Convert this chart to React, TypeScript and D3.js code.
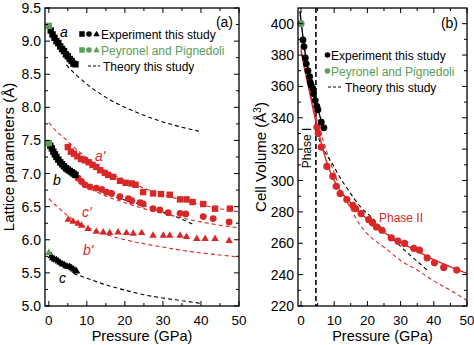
import React from "react";
import * as d3 from "d3";

type Pt = [number, number];

// ---------- Panel (a): lattice parameters ----------
const aExp: Pt[] = [[0.5,9.16],[1,9.1],[1.5,9.05],[2,9.0],[2.5,8.97],[3,8.92],[3.5,8.88],[4,8.85],[4.5,8.8],[5,8.77],[5.5,8.73],[6,8.7],[6.5,8.66],[7,8.65]];
const bExp: Pt[] = [[0.4,7.42],[0.8,7.38],[1.2,7.33],[1.6,7.29],[2,7.25],[2.5,7.21],[3,7.17],[3.5,7.14],[4,7.11],[4.5,7.08],[5,7.06],[5.5,7.04],[6,7.02],[6.5,7.0],[7,6.98]];
const cExp: Pt[] = [[0.6,5.76],[1,5.73],[1.5,5.71],[2,5.7],[2.5,5.68],[3,5.66],[3.5,5.64],[4,5.63],[4.5,5.61],[5,5.6],[5.5,5.6],[6,5.58],[6.5,5.56],[7,5.54],[7.3,5.53]];
const aLit: Pt[] = [[0,9.23]];
const bLit: Pt[] = [[0,7.46]];
const cLit: Pt[] = [[0,5.81]];

const sqII: Pt[] = [[5.0,7.40],[5.8,7.33],[6.6,7.30],[7.5,7.26],[8.5,7.22],[9.5,7.2],[10.5,7.17],[11.5,7.13],[12.5,7.10],[13.5,7.05],[14.7,7.01],[15.6,6.98],[16.9,6.95],[18.7,6.89],[20.2,6.86],[21.8,6.85],[22.8,6.83],[24.8,6.72],[27.4,6.70],[29.5,6.69],[31.8,6.68],[34.5,6.61],[36.2,6.61],[37.8,6.57],[40.6,6.54],[43.7,6.47],[47.6,6.47]];
const ciII: Pt[] = [[6.8,6.98],[7.7,6.93],[8.6,6.88],[9.5,6.83],[10.8,6.80],[12.5,6.78],[13.9,6.76],[15.2,6.72],[16.5,6.70],[18.7,6.65],[20.9,6.62],[21.8,6.59],[24.0,6.56],[24.8,6.54],[27.4,6.47],[29.2,6.45],[31.4,6.41],[34.5,6.40],[36.0,6.39],[40.6,6.35],[43.2,6.32],[47.4,6.27]];
const trII: Pt[] = [[5.1,6.31],[6.4,6.28],[7.7,6.25],[8.6,6.22],[10.3,6.17],[12.5,6.13],[14.3,6.12],[16.0,6.11],[18.2,6.12],[20.4,6.11],[22.2,6.10],[24.4,6.11],[27.4,6.07],[30.1,6.07],[31.8,6.07],[34.5,6.07],[36.2,6.05],[38.9,6.02],[41.1,6.02],[43.7,6.02],[47.4,5.99]];

const aTheoryI: Pt[] = [[4.6,8.64],[7,8.5],[10,8.35],[15,8.15],[20,8.0],[25,7.88],[30,7.78],[35,7.7],[39.5,7.64]];
const bTheoryI: Pt[] = [[5,7.06],[7,6.96],[10,6.84],[15,6.70],[20,6.6],[25,6.52],[30,6.42],[35,6.31],[38,6.23]];
const cTheoryI: Pt[] = [[6.5,5.49],[10,5.42],[15,5.32],[20,5.24],[25,5.17],[30,5.12],[35,5.08],[40,5.04]];
const aTheoryII: Pt[] = [[0,7.77],[2,7.64],[4,7.54],[6,7.43],[8,7.33],[10,7.24],[12,7.15],[15,7.04],[20,6.9],[25,6.78],[30,6.68],[35,6.6],[40,6.53],[45,6.47],[50,6.42]];
const cTheoryII: Pt[] = [[8,6.88],[10,6.8],[15,6.66],[20,6.56],[25,6.47],[30,6.4],[35,6.33],[40,6.27],[45,6.22],[50,6.18]];
const bTheoryII: Pt[] = [[0,6.62],[2,6.51],[4,6.41],[6,6.32],[8,6.25],[10,6.19],[12,6.14],[15,6.08],[18,6.03],[20,6.0],[25,5.94],[30,5.89],[35,5.84],[40,5.8],[45,5.77],[50,5.74]];

// ---------- Panel (b): cell volume ----------
const volExpI: Pt[] = [[0.6,389.6],[0.9,385.4],[1.3,378.2],[1.6,374.4],[2.1,370],[2.6,366.3],[2.8,362.7],[3.1,360.6],[3.6,358.5],[3.8,355.3],[4.3,351],[4.8,347.2],[5.1,345.1],[6.1,337.2],[6.9,333.6]];
const volLit: Pt[] = [[0,400]];
const volExpII: Pt[] = [[4.8,334],[5.2,330],[6.1,321.3],[7.8,309],[9.6,302.7],[10.6,296.3],[11.8,291.7],[13.8,287.9],[15.6,284.2],[16.4,282.1],[18.1,278.9],[20.4,275.1],[21.5,273],[22.7,270.4],[24.4,268.3],[27.2,263.4],[29.2,261.3],[31.2,259.9],[34.0,256.7],[35.7,255.6],[38.0,250.7],[40.2,247.5],[43.0,244.6],[46.9,242.9]];
const volFitI: Pt[] = [[-0.3,408],[0,402],[1,385],[2,371.5],[3,361.5],[4,353],[5,346],[6,339],[7,333]];
const volFitII: Pt[] = [[0,383],[1,372],[2,362],[3,352],[4,342],[5,333],[6,325],[7,317],[8,310],[10,300],[12,293],[14,288],[16,283.5],[18,279],[20,275.5],[22,272],[25,267],[30,260.5],[35,255],[40,249.5],[45,245],[50,240.8]];
const volTheoryI: Pt[] = [[4.5,331],[7,319],[9.5,310.5],[12,301],[13.6,296],[16,288.5],[18,283],[21.6,275.8],[25,268],[28.6,261],[32,254],[35,248.5],[38.5,242]];
const volTheoryII: Pt[] = [[0,384],[2,363],[4,345],[6,330],[8,317],[10,305],[12,294],[14.5,284],[18,271],[20,266],[25,257.5],[28.6,251.3],[30,249],[35,243],[40,236],[45,230],[50,223.5]];
const phaseBoundary = 4.5;

const xTicks = [0, 10, 20, 30, 40, 50];
const xMinor = [5, 15, 25, 35, 45];
const aYTicks = [5.0, 5.5, 6.0, 6.5, 7.0, 7.5, 8.0, 8.5, 9.0, 9.5];
const bYTicks = [220, 240, 260, 280, 300, 320, 340, 360, 380, 400];

const RED = "#d92727";
const GREEN = "#5a9e57";
const FONT = "'Liberation Sans', Arial, Helvetica, sans-serif";

const A = { l: 45, r: 239, t: 8, b: 306 };
const B = { l: 298, r: 467, t: 8, b: 306 };

const xa = d3.scaleLinear().domain([-1, 50]).range([A.l, A.r]);
const ya = d3.scaleLinear().domain([5, 9.5]).range([A.b, A.t]);
const xb = d3.scaleLinear().domain([-0.9, 50]).range([B.l, B.r]);
const yb = d3.scaleLinear().domain([220, 410]).range([B.b, B.t]);

function Square({ x, y, c, s = 6.4 }: { x: number; y: number; c: string; s?: number }) {
  return <rect x={x - s / 2} y={y - s / 2} width={s} height={s} fill={c} />;
}
function Circle({ x, y, c, r = 3.4 }: { x: number; y: number; c: string; r?: number }) {
  return <circle cx={x} cy={y} r={r} fill={c} />;
}
function Tri({ x, y, c, s = 7.4 }: { x: number; y: number; c: string; s?: number }) {
  const h = s * 0.87;
  return <path d={`M${x},${y - h * 0.6}L${x + s / 2},${y + h * 0.4}L${x - s / 2},${y + h * 0.4}Z`} fill={c} />;
}

function Frame({ box, xs, ys, yt, yMinor, fmt }: any) {
  const els: any[] = [];
  xTicks.forEach((t) => {
    const x = xs(t);
    els.push(<line key={"xb" + t} x1={x} x2={x} y1={box.b} y2={box.b - 5} stroke="#000" />);
    els.push(<line key={"xt" + t} x1={x} x2={x} y1={box.t} y2={box.t + 5} stroke="#000" />);
    els.push(<text key={"xl" + t} x={x} y={box.b + 19} textAnchor="middle" fontSize={13.5} fontFamily={FONT}>{t}</text>);
  });
  xMinor.forEach((t) => {
    const x = xs(t);
    els.push(<line key={"xmb" + t} x1={x} x2={x} y1={box.b} y2={box.b - 3} stroke="#000" />);
    els.push(<line key={"xmt" + t} x1={x} x2={x} y1={box.t} y2={box.t + 3} stroke="#000" />);
  });
  yt.forEach((t: number) => {
    const y = ys(t);
    els.push(<line key={"yl" + t} x1={box.l} x2={box.l + 5} y1={y} y2={y} stroke="#000" />);
    els.push(<line key={"yr" + t} x1={box.r} x2={box.r - 5} y1={y} y2={y} stroke="#000" />);
    els.push(<text key={"ylab" + t} x={box.l - 4} y={y + 5} textAnchor="end" fontSize={14} fontFamily={FONT}>{fmt(t)}</text>);
  });
  yMinor.forEach((t: number) => {
    const y = ys(t);
    els.push(<line key={"yml" + t} x1={box.l} x2={box.l + 3} y1={y} y2={y} stroke="#000" />);
    els.push(<line key={"ymr" + t} x1={box.r} x2={box.r - 3} y1={y} y2={y} stroke="#000" />);
  });
  els.push(<rect key="frame" x={box.l} y={box.t} width={box.r - box.l} height={box.b - box.t} fill="none" stroke="#000" strokeWidth={1.3} />);
  return <g>{els}</g>;
}

export default function App() {
  const la = d3.line<Pt>().x((d) => xa(d[0])).y((d) => ya(d[1])).curve(d3.curveMonotoneX);
  const lb = d3.line<Pt>().x((d) => xb(d[0])).y((d) => yb(d[1])).curve(d3.curveMonotoneX);
  const dash = "4,3";
  const aMinor = d3.range(5.25, 9.5, 0.5);
  const bMinor = d3.range(230, 410, 20);

  return (
    <svg width={474} height={345} style={{ position: "absolute", left: 0, top: 0, background: "#fff" }} fontFamily={FONT}>
      {/* ---------- Panel (a) ---------- */}
      <g fill="none" strokeWidth={1.1}>
        <path d={la(aTheoryI) || ""} stroke="#000" strokeDasharray={dash} />
        <path d={la(bTheoryI) || ""} stroke="#000" strokeDasharray={dash} />
        <path d={la(cTheoryI) || ""} stroke="#000" strokeDasharray={dash} />
        <path d={la(aTheoryII) || ""} stroke={RED} strokeDasharray={dash} />
        <path d={la(cTheoryII) || ""} stroke={RED} strokeDasharray={dash} />
        <path d={la(bTheoryII) || ""} stroke={RED} strokeDasharray={dash} />
      </g>
      {sqII.map((d, i) => <Square key={"sq" + i} x={xa(d[0])} y={ya(d[1])} c={RED} />)}
      {ciII.map((d, i) => <Circle key={"ci" + i} x={xa(d[0])} y={ya(d[1])} c={RED} />)}
      {trII.map((d, i) => <Tri key={"tr" + i} x={xa(d[0])} y={ya(d[1])} c={RED} />)}
      {aExp.map((d, i) => <Square key={"a" + i} x={xa(d[0])} y={ya(d[1])} c="#000" />)}
      {bExp.map((d, i) => <Square key={"b" + i} x={xa(d[0])} y={ya(d[1])} c="#000" />)}
      {cExp.map((d, i) => <Tri key={"c" + i} x={xa(d[0])} y={ya(d[1])} c="#000" />)}
      {aLit.map((d, i) => <Square key={"al" + i} x={xa(d[0])} y={ya(d[1])} c={GREEN} />)}
      {bLit.map((d, i) => <Square key={"bl" + i} x={xa(d[0])} y={ya(d[1])} c={GREEN} />)}
      {cLit.map((d, i) => <Tri key={"cl" + i} x={xa(d[0])} y={ya(d[1])} c={GREEN} />)}

      <g fontSize={14} fontStyle="italic" fontFamily={FONT}>
        <text x={60} y={37}>a</text>
        <text x={95} y={161} fill={RED}>a'</text>
        <text x={53} y={185}>b</text>
        <text x={82} y={217} fill={RED}>c'</text>
        <text x={83} y={255} fill={RED}>b'</text>
        <text x={59} y={283}>c</text>
      </g>

      {/* legend (a) */}
      <Square x={82} y={34} c="#000" s={5.5} />
      <Circle x={89} y={34} c="#000" r={2.8} />
      <Tri x={96.5} y={34} c="#000" s={6.4} />
      <text x={101} y={38.5} fontSize={12}>Experiment this study</text>
      <Square x={82} y={50} c={GREEN} s={5.5} />
      <Circle x={89} y={50} c={GREEN} r={2.8} />
      <Tri x={96.5} y={50} c={GREEN} s={6.4} />
      <text x={101} y={54.5} fontSize={12} fill={GREEN}>Peyronel and Pignedoli</text>
      <line x1={88} x2={100} y1={66} y2={66} stroke="#000" strokeDasharray="3,2" />
      <text x={103} y={70.5} fontSize={12}>Theory this study</text>
      <text x={233} y={27} fontSize={14} textAnchor="end">(a)</text>

      <Frame box={A} xs={xa} ys={ya} yt={aYTicks} yMinor={aMinor} fmt={(t: number) => t.toFixed(1)} />
      <text x={(A.l + A.r) / 2} y={341} textAnchor="middle" fontSize={14.5}>Pressure (GPa)</text>
      <text transform={`translate(14,${(A.t + A.b) / 2}) rotate(-90)`} textAnchor="middle" fontSize={15}>Lattice parameters (Å)</text>

      {/* ---------- Panel (b) ---------- */}
      <line x1={xb(phaseBoundary)} x2={xb(phaseBoundary)} y1={B.t} y2={B.b} stroke="#000" strokeWidth={1.6} strokeDasharray="5,3" />
      <g fill="none">
        <path d={lb(volTheoryII) || ""} stroke={RED} strokeWidth={1.1} strokeDasharray={dash} />
        <path d={lb(volTheoryI) || ""} stroke="#000" strokeWidth={1.1} strokeDasharray={dash} />
        <path d={lb(volFitII) || ""} stroke={RED} strokeWidth={1.4} />
        <path d={lb(volFitI) || ""} stroke="#000" strokeWidth={1.4} />
      </g>
      {volExpII.map((d, i) => <Circle key={"v2" + i} x={xb(d[0])} y={yb(d[1])} c={RED} r={3.6} />)}
      {volExpI.map((d, i) => <Circle key={"v1" + i} x={xb(d[0])} y={yb(d[1])} c="#000" r={3.4} />)}
      {volLit.map((d, i) => <Circle key={"vl" + i} x={xb(d[0])} y={yb(d[1])} c={GREEN} r={3.6} />)}

      <text transform={`translate(311,148) rotate(-90)`} textAnchor="middle" fontSize={12}>Phase I</text>
      <text x={379} y={222} fontSize={12} fill={RED}>Phase II</text>

      {/* legend (b) */}
      <Circle x={327.5} y={55} c="#000" r={2.8} />
      <text x={331} y={59.5} fontSize={12}>Experiment this study</text>
      <Circle x={327.5} y={71} c={GREEN} r={2.8} />
      <text x={331} y={75.5} fontSize={12} fill={GREEN}>Peyronel and Pignedoli</text>
      <line x1={328} x2={342} y1={87} y2={87} stroke="#000" strokeDasharray="3,2" />
      <text x={345} y={91.5} fontSize={12}>Theory this study</text>
      <text x={458} y={28} fontSize={14} textAnchor="end">(b)</text>

      <Frame box={B} xs={xb} ys={yb} yt={bYTicks} yMinor={bMinor} fmt={(t: number) => String(t)} />
      <text x={(B.l + B.r) / 2} y={341} textAnchor="middle" fontSize={14.5}>Pressure (GPa)</text>
      <text transform={`translate(266,${(B.t + B.b) / 2}) rotate(-90)`} textAnchor="middle" fontSize={15}>Cell Volume (Å<tspan dy={-5} fontSize={10}>3</tspan><tspan dy={5}>)</tspan></text>
    </svg>
  );
}
